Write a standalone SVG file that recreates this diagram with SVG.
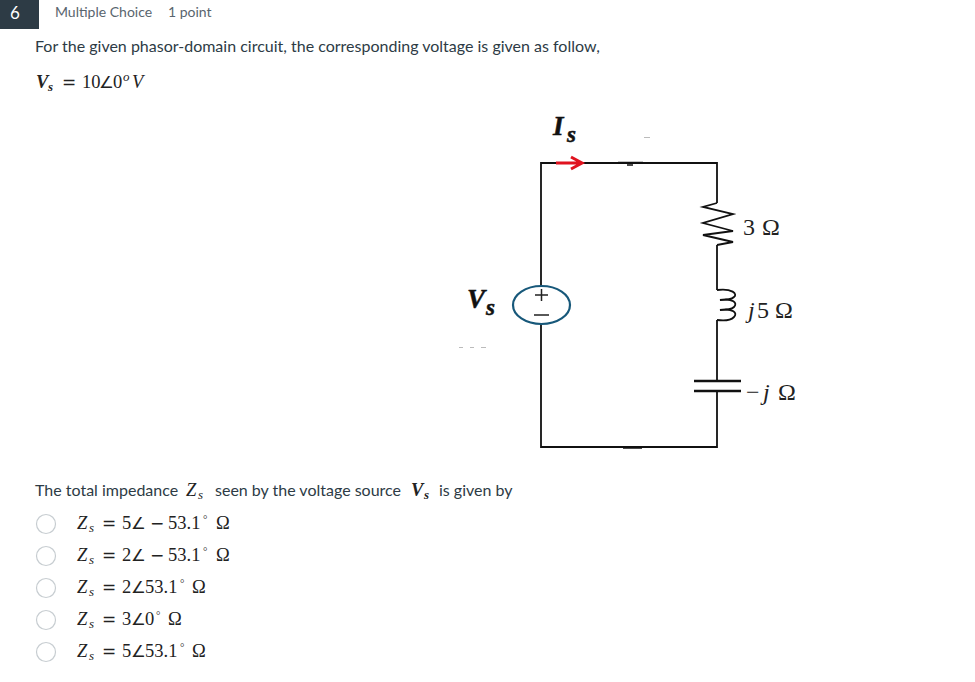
<svg xmlns="http://www.w3.org/2000/svg" width="975" height="682" viewBox="0 0 975 682">
<style>
.t{font-family:Lato,"Open Sans",sans-serif;font-size:16px;fill:#2d3b45}
.h{font-family:Lato,"Open Sans",sans-serif;font-size:14px;fill:#59656e}
.m{font-family:"Liberation Serif",serif;font-size:18.500px;fill:#222}
.a{font-family:"DejaVu Sans",sans-serif;font-size:16.500px;font-weight:normal}
.e{font-family:"DejaVu Sans",sans-serif;font-size:17px;font-weight:normal}
.n{font-size:13px;font-style:italic}
.d{font-size:11px}
.c{font-family:"Liberation Serif",serif;font-size:24px;fill:#222}
.b{font-family:"Liberation Serif",serif;font-weight:bold;font-style:italic;fill:#111;stroke:#111;stroke-width:.5}
.w{fill:none;stroke:#111;stroke-width:1.800}
.r{fill:#fff;stroke:#c7cdd1;stroke-width:1.200}
.z{font-style:italic}
</style>
<rect width="975" height="682" fill="#fff"/>
<g id="header">
<rect x="0" y="0" width="39" height="29" fill="#2d3b45"/>
<text x="10" y="19" font-family="Lato,sans-serif" font-size="17" fill="#fff">6</text>
<text x="55" y="17" class="h">Multiple Choice</text>
<text x="168" y="17" class="h">1 point</text>
</g>
<g id="question">
<text x="35" y="52" class="t">For the given phasor-domain circuit, the corresponding voltage is given as follow,</text>
<text y="88" class="m"><tspan x="36" font-weight="bold" font-style="italic">V</tspan><tspan x="48" y="91" font-weight="bold" class="n">s</tspan><tspan x="62" y="88" class="e">=</tspan><tspan x="82">10</tspan><tspan x="99" class="a">∠</tspan><tspan x="113">0</tspan><tspan x="123" y="81" class="n">o</tspan><tspan x="132" y="88" font-style="italic">V</tspan></text>
<text x="35" y="496" class="t">The total impedance</text>
<text y="496" class="m"><tspan x="186" class="z">Z</tspan><tspan x="198" y="499" class="n">s</tspan></text>
<text x="215" y="496" class="t">seen by the voltage source</text>
<text y="496" class="m" font-weight="bold" font-style="italic"><tspan x="411">V</tspan><tspan x="424" y="499" class="n">s</tspan></text>
<text x="439" y="496" class="t">is given by</text>
</g>
<g id="connectors">
<path class="w" d="M541 286V163H717V203"/>
<path class="w" d="M541 324V447H717V391"/>
<path class="w" d="M717 245V290"/>
<path class="w" d="M717 320V381"/>
<path d="M618 162.500H643M627 165L633 165M623 448H642" fill="none" stroke="#111" stroke-width="1.500"/>
<path d="M644 137.500H650M459 347.500H463M470 347.500H474M481 347.500H486" fill="none" stroke="#bbb" stroke-width="1"/>
</g>
<g id="source-Vs">
<ellipse cx="541.500" cy="305" rx="28.500" ry="19" fill="#fff" stroke="#17587a" stroke-width="2.200"/>
<path d="M535 295H548M541.500 289V301M534 315H549" fill="none" stroke="#222" stroke-width="1.500"/>
<text x="467" y="308" class="b" font-size="27">V</text>
<text x="486" y="315" class="b" font-size="23">s</text>
</g>
<g id="current-Is">
<path d="M556 163H581M571 157L582 163L571 169" fill="none" stroke="#e0131f" stroke-width="3"/>
<text x="553" y="135" class="b" font-size="27">I</text>
<text x="567" y="142" class="b" font-size="23">s</text>
</g>
<g id="resistor">
<path class="w" d="M717 203L703 207L733 214L703 223L733 231L703 235L733 242L717 245"/>
<text class="c" y="235"><tspan x="743">3</tspan><tspan x="762">Ω</tspan></text>
</g>
<g id="inductor">
<path class="w" d="M717 290C732 288 738 294 734 297C731 300 724 300 720 300C733 298 738 303 734 307C731 310 724 310 720 310C733 308 738 313 734 317C731 320 724 321 717 320"/>
<text class="c" y="318"><tspan x="748" font-style="italic">j</tspan><tspan x="757">5</tspan><tspan x="775">Ω</tspan></text>
</g>
<g id="capacitor">
<path d="M694 381H741M694 391H741" fill="none" stroke="#111" stroke-width="2.400"/>
<text class="c" y="400"><tspan x="746">−</tspan><tspan x="763" font-style="italic">j</tspan><tspan x="778">Ω</tspan></text>
</g>
<g id="option-1">
<circle class="r" cx="46" cy="524" r="9.500"/>
<text y="529" class="m"><tspan x="77" class="z">Z</tspan><tspan x="89" y="532" class="n">s</tspan><tspan x="102" y="529" class="e">=</tspan><tspan x="122">5</tspan><tspan x="131" class="a">∠</tspan><tspan x="150" class="e">−</tspan><tspan x="168">53.1</tspan><tspan x="203" y="523" class="d">°</tspan><tspan x="216" y="529">Ω</tspan></text>
</g>
<g id="option-2">
<circle class="r" cx="46" cy="556" r="9.500"/>
<text y="561" class="m"><tspan x="77" class="z">Z</tspan><tspan x="89" y="564" class="n">s</tspan><tspan x="102" y="561" class="e">=</tspan><tspan x="122">2</tspan><tspan x="131" class="a">∠</tspan><tspan x="150" class="e">−</tspan><tspan x="168">53.1</tspan><tspan x="203" y="555" class="d">°</tspan><tspan x="216" y="561">Ω</tspan></text>
</g>
<g id="option-3">
<circle class="r" cx="46" cy="588" r="9.500"/>
<text y="593" class="m"><tspan x="77" class="z">Z</tspan><tspan x="89" y="596" class="n">s</tspan><tspan x="102" y="593" class="e">=</tspan><tspan x="122">2</tspan><tspan x="131" class="a">∠</tspan><tspan x="145">53.1</tspan><tspan x="180" y="587" class="d">°</tspan><tspan x="192" y="593">Ω</tspan></text>
</g>
<g id="option-4">
<circle class="r" cx="46" cy="620" r="9.500"/>
<text y="625" class="m"><tspan x="77" class="z">Z</tspan><tspan x="89" y="628" class="n">s</tspan><tspan x="102" y="625" class="e">=</tspan><tspan x="122">3</tspan><tspan x="131" class="a">∠</tspan><tspan x="145">0</tspan><tspan x="156" y="619" class="d">°</tspan><tspan x="168" y="625">Ω</tspan></text>
</g>
<g id="option-5">
<circle class="r" cx="46" cy="652" r="9.500"/>
<text y="657" class="m"><tspan x="77" class="z">Z</tspan><tspan x="89" y="660" class="n">s</tspan><tspan x="102" y="657" class="e">=</tspan><tspan x="122">5</tspan><tspan x="131" class="a">∠</tspan><tspan x="145">53.1</tspan><tspan x="180" y="651" class="d">°</tspan><tspan x="192" y="657">Ω</tspan></text>
</g>
</svg>
